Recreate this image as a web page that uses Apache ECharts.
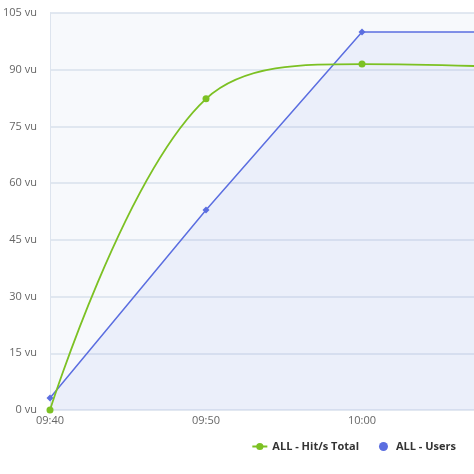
<!DOCTYPE html>
<html>
<head>
<meta charset="utf-8">
<script src="https://cdn.jsdelivr.net/npm/echarts@6/dist/echarts.min.js"></script>
<style>
html,body{margin:0;padding:0;background:#fff;}
#c{width:474px;height:474px;}
</style>
</head>
<body>
<div id="c"></div>
<script>
var times = ["09:40", "09:50", "10:00", "10:10"];
var hitsTotal = [0, 82.3, 91.5, 90.6];
var users = [3.2, 52.9, 100, 100];
var yTicks = [0, 15, 30, 45, 60, 75, 90, 105];
var seriesNames = ["ALL - Hit/s Total", "ALL - Users"];

function toMin(t) { var p = t.split(":"); return (+p[0]) * 60 + (+p[1]); }
function fmt(m) { var h = Math.floor(m / 60), mm = m % 60; return (h < 10 ? "0" : "") + h + ":" + (mm < 10 ? "0" : "") + mm; }

var chart = echarts.init(document.getElementById('c'), null, {renderer: 'canvas'});
chart.setOption({
  animation: false,
  grid: {left: 50, top: 13, bottom: 64, right: -44, outerBoundsMode: 'none', containLabel: false, show: true, backgroundColor: '#f7f9fc', borderWidth: 0},
  xAxis: {
    type: 'value',
    min: toMin(times[0]), max: toMin(times[times.length - 1]), interval: 10,
    axisLine: {show: false}, axisTick: {show: false}, splitLine: {show: false},
    axisLabel: {formatter: function (v) { return fmt(v); }, color: '#666', fontSize: 11, margin: 5, fontFamily: 'Open Sans'}
  },
  yAxis: {
    type: 'value', min: yTicks[0], max: yTicks[yTicks.length - 1], interval: 15,
    axisLine: {show: true, lineStyle: {color: '#dde4ee'}}, axisTick: {show: false},
    splitLine: {lineStyle: {color: '#d8e0ec', width: 1.5}},
    axisLabel: {formatter: '{value} vu', color: '#666', fontSize: 11, margin: 13, fontFamily: 'Open Sans'}
  },
  legend: {
    bottom: 17, right: 13, itemGap: 20, itemWidth: 15, itemHeight: 9,
    textStyle: {fontWeight: 'bold', fontSize: 11, color: '#333', fontFamily: 'Open Sans'},
    data: [{name: seriesNames[0]}, {name: seriesNames[1], icon: 'circle'}]
  },
  series: [
    {
      name: seriesNames[1], type: 'line', z: 2,
      data: times.map(function (t, i) { return [toMin(t), users[i]]; }),
      symbol: 'diamond', symbolSize: 7,
      lineStyle: {color: '#5b6ee0', width: 1.5},
      itemStyle: {color: '#5b6ee0'},
      areaStyle: {color: 'rgba(91,110,224,0.1)'}
    },
    {
      name: seriesNames[0], type: 'line', z: 3,
      data: times.map(function (t, i) { return [toMin(t), hitsTotal[i]]; }),
      smooth: 0.38,
      symbol: 'circle', symbolSize: 7,
      lineStyle: {color: '#7cc123', width: 1.8},
      itemStyle: {color: '#7cc123'}
    }
  ]
});
</script>
</body>
</html>
